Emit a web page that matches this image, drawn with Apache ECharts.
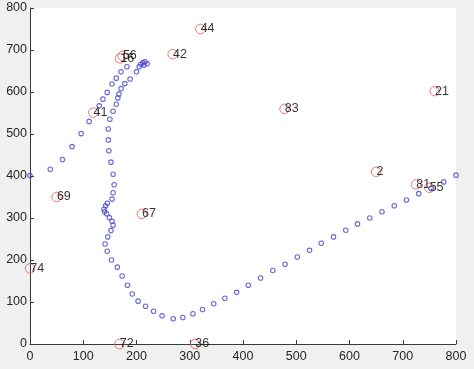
<!DOCTYPE html>
<html>
<head>
<meta charset="utf-8">
<script src="https://cdn.jsdelivr.net/npm/echarts@6/dist/echarts.min.js"></script>
<style>
html,body{margin:0;padding:0;background:#f0f0f0;}
#c{width:474px;height:369px;}
</style>
</head>
<body>
<div id="c"></div>
<script>
// Labeled points (red circles)
var redX = [320, 268, 174, 169, 119, 478, 760, 650, 725, 750, 50, 210, 0, 168, 310];
var redY = [750, 690, 686, 680, 551, 560, 602, 410, 380, 372, 350, 310, 180, 0, 0];
var redLabels = ['44', '42', '56', '16', '41', '83', '21', '2', '81', '55', '69', '67', '74', '72', '36'];

// Path points (blue circles)
var blueX = [800, 777, 753, 730, 707, 684, 661, 638, 615, 593, 570, 547, 525, 502, 479, 456, 433, 410, 388,
  366, 345, 324, 306, 287, 269, 248, 232, 217, 203, 192, 183, 173, 164, 153, 145, 141, 146, 152, 156, 154,
  149, 144, 140, 139, 142, 145, 154, 156, 158, 156, 152, 148, 147, 147, 150, 156, 162, 165, 167, 171, 178,
  188, 200, 205, 208, 212, 216, 220, 214,
  0, 38, 61, 79, 96, 111, 130, 137, 145, 154, 162, 171, 182];
var blueY = [402, 386, 370, 358, 343, 329, 315, 300, 286, 271, 255, 240, 223, 207, 190, 175, 157, 140, 123,
  109, 96, 82, 72, 63, 60, 67, 78, 90, 102, 119, 140, 162, 183, 200, 221, 238, 255, 270, 283, 292,
  301, 310, 315, 321, 329, 335, 345, 360, 379, 404, 433, 460, 486, 512, 535, 554, 571, 586, 595, 608, 620,
  631, 648, 660, 666, 670, 672, 667, 664,
  401, 416, 439, 470, 501, 530, 567, 583, 599, 619, 633, 648, 660];

// Axis ticks
var xTicks = [0, 100, 200, 300, 400, 500, 600, 700, 800];
var yTicks = [0, 100, 200, 300, 400, 500, 600, 700, 800];

var redData = redX.map(function (x, i) { return [x, redY[i], redLabels[i]]; });
var blueData = blueX.map(function (x, i) { return [x, blueY[i]]; });

var axisCommon = {
  type: 'value',
  min: xTicks[0],
  max: xTicks[xTicks.length - 1],
  interval: 100,
  axisLine: { show: true, lineStyle: { color: '#3a3a3a', width: 1 } },
  axisTick: { show: true, inside: true, length: 4, lineStyle: { color: '#3a3a3a' } },
  splitLine: { show: false },
  axisLabel: { color: '#262626', fontSize: 12.5, fontFamily: 'Liberation Sans, Arial, sans-serif' }
};

var chart = echarts.init(document.getElementById('c'), null, { renderer: 'canvas' });
chart.setOption({
  backgroundColor: '#f0f0f0',
  animation: false,
  grid: { left: 30, right: 18, top: 8, bottom: 25, show: true, backgroundColor: '#ffffff', borderWidth: 0, z: 0 },
  xAxis: Object.assign({}, axisCommon, { axisLabel: Object.assign({}, axisCommon.axisLabel, { margin: 6 }) }),
  yAxis: Object.assign({}, axisCommon, {
    min: yTicks[0], max: yTicks[yTicks.length - 1],
    axisLabel: Object.assign({}, axisCommon.axisLabel, { margin: 3 })
  }),
  series: [
    {
      type: 'scatter',
      data: redData,
      symbol: 'circle',
      symbolSize: 9.5,
      zlevel: 1,
      itemStyle: { color: 'rgba(255,255,255,0)', borderColor: '#e05a5a', borderWidth: 1 },
      label: {
        show: true,
        position: 'right',
        distance: -5,
        formatter: function (p) { return p.data[2]; },
        color: '#000000',
        fontSize: 12.5,
        fontFamily: 'Liberation Sans, Arial, sans-serif'
      },
      z: 2
    },
    {
      type: 'scatter',
      data: blueData,
      symbol: 'circle',
      symbolSize: 4.5,
      zlevel: 1,
      itemStyle: { color: 'rgba(255,255,255,0)', borderColor: '#4646cc', borderWidth: 1.1 },
      z: 3
    }
  ]
});
</script>
</body>
</html>
